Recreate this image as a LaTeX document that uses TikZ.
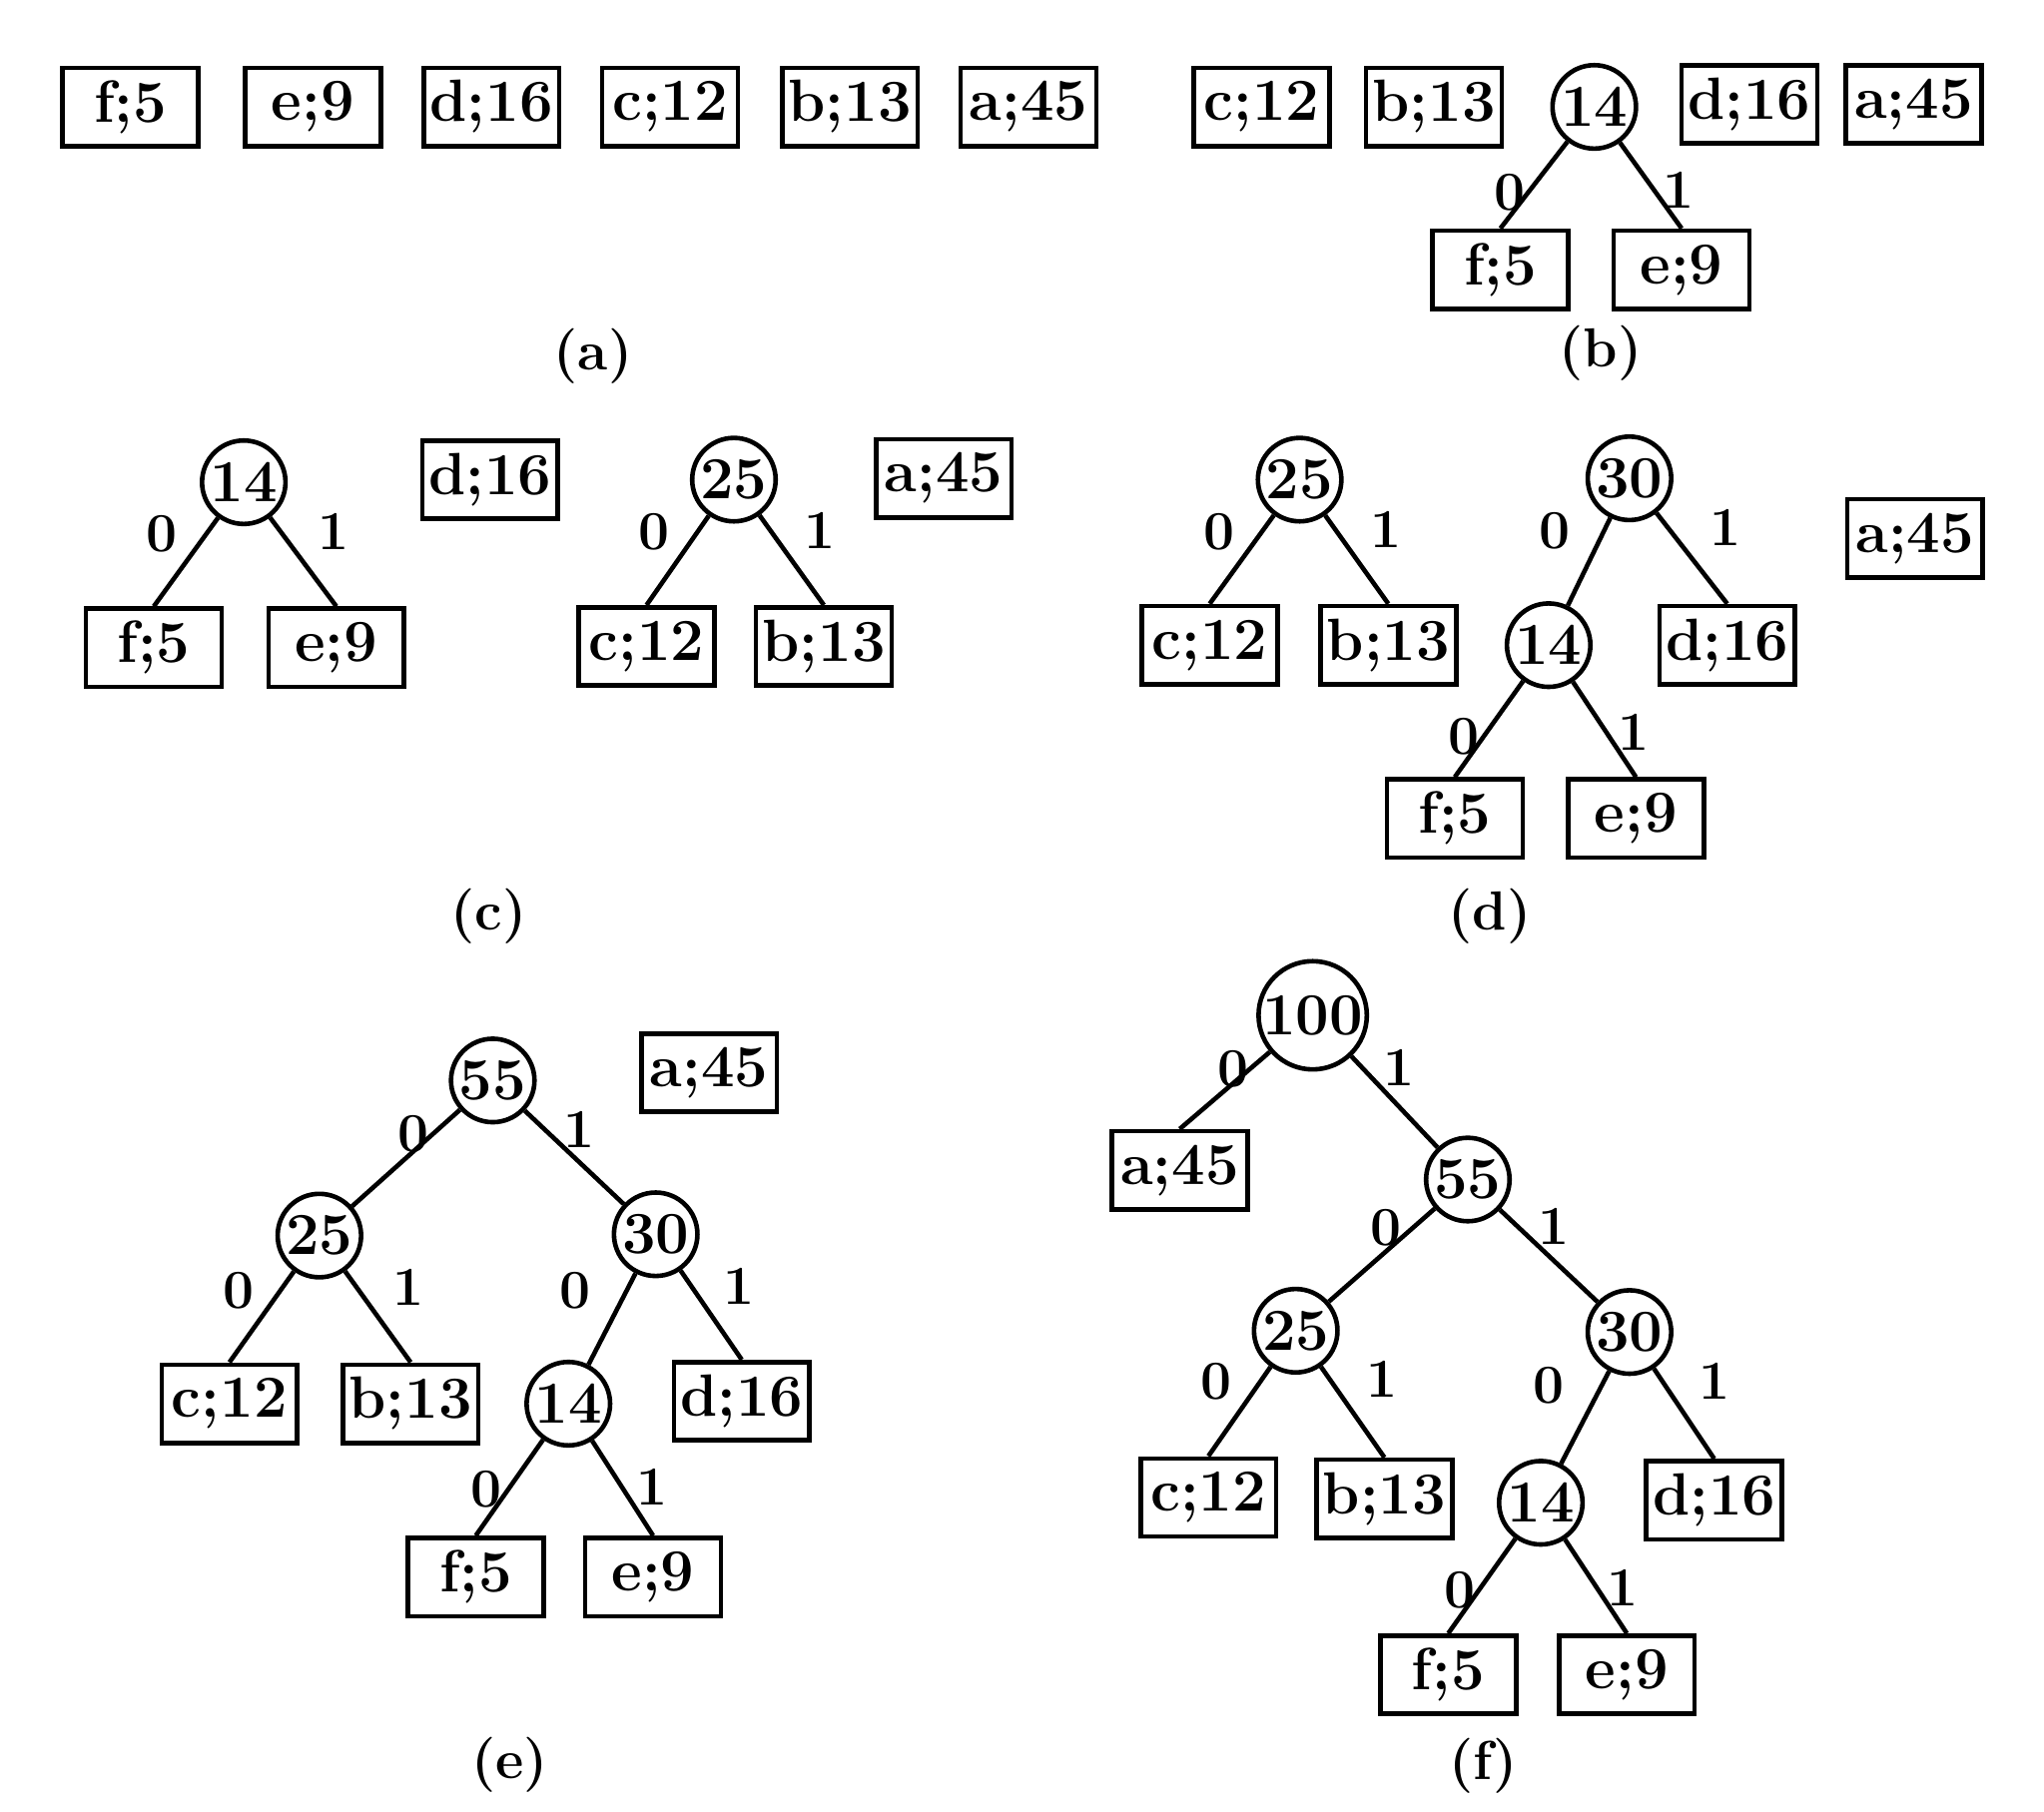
\documentclass[tikz,border=0pt]{standalone}
\begin{document}
\begin{tikzpicture}[x=0.01cm,y=-0.01cm,line width=1pt,
 bx/.style={draw,minimum width=1.04cm,minimum height=0.6cm,inner sep=0pt,font=\fontsize{13}{15}\selectfont\bfseries},
 cr/.style={draw,circle,minimum size=0.64cm,inner sep=0pt,font=\fontsize{13}{15}\selectfont\bfseries},
 lb/.style={font=\fontsize{12}{14}\selectfont\bfseries},
 captxt/.style={font=\fontsize{12}{14}\selectfont\bfseries}]
\useasboundingbox (0,0) rectangle (1568,1390);
% (a)
\node[bx] (af) at (100,82) {f;5};
\node[bx] (ae) at (240,82) {e;9};
\node[bx] (ad) at (377,82) {d;16};
\node[bx] (ac) at (514,82) {c;12};
\node[bx] (ab) at (652,82) {b;13};
\node[bx] (aa) at (789,82) {a;45};
\node[captxt] (ca) at (455,273) {(a)};
% (b)
\node[bx] (bc) at (968,82) {c;12};
\node[bx] (bb) at (1100,82) {b;13};
\node[cr] (b14) at (1223,82) {14};
\node[bx] (bd) at (1342,80) {d;16};
\node[bx] (ba) at (1468,80) {a;45};
\node[bx] (bf) at (1151,207) {f;5};
\node[bx] (be) at (1290,207) {e;9};
\draw (b14) -- (bf.north); \draw (b14) -- (be.north);
\node[lb] (bl0) at (1158,148) {0}; \node[lb] (bl1) at (1288,146) {1};
\node[captxt] (cb) at (1228,271) {(b)};
% (c)
\node[cr] (c14) at (187,370) {14};
\node[bx] (cf) at (118,497) {f;5};
\node[bx] (ce) at (258,497) {e;9};
\draw (c14) -- (cf.north); \draw (c14) -- (ce.north);
\node[lb] (cl0) at (124,410) {0}; \node[lb] (cl1) at (256,408) {1};
\node[bx] (cd) at (376,368) {d;16};
\node[cr] (c25) at (563,368) {25};
\node[bx] (cc) at (496,496) {c;12};
\node[bx] (cb2) at (632,496) {b;13};
\draw (c25) -- (cc.north); \draw (c25) -- (cb2.north);
\node[lb] (cl2) at (502,408) {0}; \node[lb] (cl3) at (629,407) {1};
\node[bx] (ca2) at (724,367) {a;45};
\node[captxt] (cc3) at (375,703) {(c)};
% (d)
\node[cr] (d25) at (997,368) {25};
\node[bx] (dc) at (928,495) {c;12};
\node[bx] (db) at (1065,495) {b;13};
\draw (d25) -- (dc.north); \draw (d25) -- (db.north);
\node[lb] (dl0) at (935,408) {0}; \node[lb] (dl1) at (1063,406) {1};
\node[cr] (d30) at (1250,367) {30};
\node[cr] (d14) at (1188,495) {14};
\node[bx] (dd) at (1325,495) {d;16};
\draw (d30) -- (d14); \draw (d30) -- (dd.north);
\node[lb] (dl2) at (1193,407) {0}; \node[lb] (dl3) at (1324,405) {1};
\node[bx] (df) at (1116,628) {f;5};
\node[bx] (de) at (1255,628) {e;9};
\draw (d14) -- (df.north); \draw (d14) -- (de.north);
\node[lb] (dl4) at (1123,565) {0}; \node[lb] (dl5) at (1253,562) {1};
\node[bx] (da) at (1469,413) {a;45};
\node[captxt] (cd2) at (1143,703) {(d)};
% (e)
\node[cr] (e55) at (378,829) {55};
\node[cr] (e25) at (245,948) {25};
\node[cr] (e30) at (503,947) {30};
\node[bx] (ec) at (176,1077) {c;12};
\node[bx] (eb) at (315,1077) {b;13};
\node[cr] (e14) at (436,1077) {14};
\node[bx] (ed) at (569,1075) {d;16};
\node[bx] (ef) at (365,1210) {f;5};
\node[bx] (ee) at (501,1210) {e;9};
\node[bx] (ea) at (544,823) {a;45};
\draw (e55) -- (e25); \draw (e55) -- (e30);
\draw (e25) -- (ec.north); \draw (e25) -- (eb.north);
\draw (e30) -- (e14); \draw (e30) -- (ed.north);
\draw (e14) -- (ef.north); \draw (e14) -- (ee.north);
\node[lb] (el0) at (317,870) {0}; \node[lb] (el1) at (444,867) {1};
\node[lb] (el2) at (183,990) {0}; \node[lb] (el3) at (313,988) {1};
\node[lb] (el4) at (441,990) {0}; \node[lb] (el5) at (567,987) {1};
\node[lb] (el6) at (373,1143) {0}; \node[lb] (el7) at (500,1141) {1};
\node[captxt] (ce2) at (391,1354) {(e)};
% (f)
\node[cr] (f100) at (1007,779) {100};
\node[bx] (fa) at (905,898) {a;45};
\node[cr] (f55) at (1126,905) {55};
\node[cr] (f25) at (994,1021) {25};
\node[cr] (f30) at (1250,1022) {30};
\node[bx] (fc) at (927,1149) {c;12};
\node[bx] (fb) at (1062,1150) {b;13};
\node[cr] (f14) at (1182,1153) {14};
\node[bx] (fd) at (1315,1151) {d;16};
\node[bx] (ff) at (1111,1285) {f;5};
\node[bx] (fe) at (1248,1285) {e;9};
\draw (f100) -- (fa.north); \draw (f100) -- (f55);
\draw (f55) -- (f25); \draw (f55) -- (f30);
\draw (f25) -- (fc.north); \draw (f25) -- (fb.north);
\draw (f30) -- (f14); \draw (f30) -- (fd.north);
\draw (f14) -- (ff.north); \draw (f14) -- (fe.north);
\node[lb] (fl0) at (946,820) {0}; \node[lb] (fl1) at (1073,819) {1};
\node[lb] (fl2) at (1063,942) {0}; \node[lb] (fl3) at (1192,941) {1};
\node[lb] (fl4) at (933,1060) {0}; \node[lb] (fl5) at (1060,1058) {1};
\node[lb] (fl6) at (1188,1063) {0}; \node[lb] (fl7) at (1315,1060) {1};
\node[lb] (fl8) at (1120,1220) {0}; \node[lb] (fl9) at (1245,1218) {1};
\node[captxt] (cf2) at (1138,1355) {(f)};
\end{tikzpicture}
\end{document}
